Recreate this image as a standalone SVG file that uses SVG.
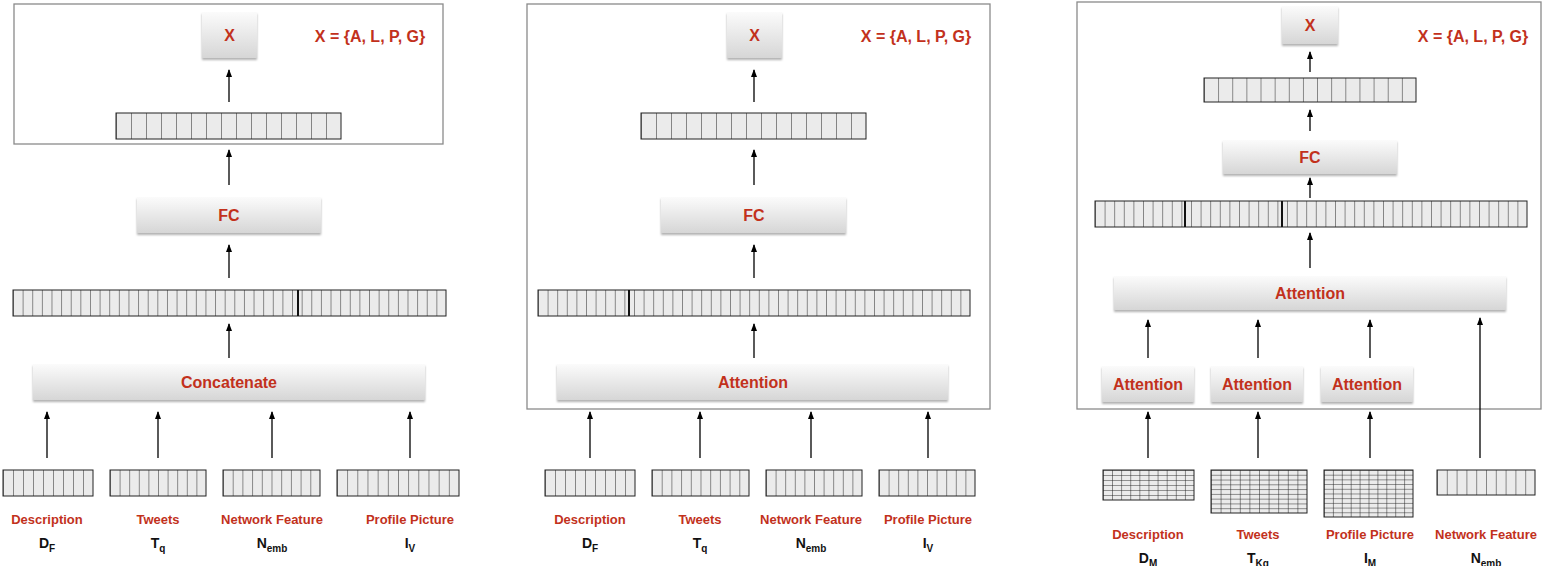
<svg xmlns="http://www.w3.org/2000/svg" width="1544" height="566" viewBox="0 0 1544 566">
<defs>
<style>
.frame{fill:none;stroke:#8a8a8a;stroke-width:1.3}
.sb{fill:none;stroke:#222;stroke-width:1}
.box{fill:url(#bg);filter:url(#sh)}
.t{font-family:"Liberation Sans",Arial,sans-serif;font-weight:bold;fill:#c2311c;text-anchor:middle}
.k{font-family:"Liberation Sans",Arial,sans-serif;font-weight:bold;fill:#111;text-anchor:middle;font-size:14px}
.ar{stroke:#000;stroke-width:1.3;fill:none;marker-end:url(#ah)}
.thick{stroke:#111;stroke-width:2}
</style>
<linearGradient id="bg" x1="0" y1="0" x2="0" y2="1"><stop offset="0" stop-color="#fbfbfb"/><stop offset="1" stop-color="#d6d6d6"/></linearGradient>
<filter id="sh" x="-10%" y="-20%" width="120%" height="160%"><feDropShadow dx="0" dy="2" stdDeviation="1.2" flood-color="#000" flood-opacity="0.3"/></filter>
<marker id="ah" viewBox="0 0 8 8" refX="7" refY="4" markerWidth="8" markerHeight="8" markerUnits="userSpaceOnUse" orient="auto"><path d="M0,1 L8,4 L0,7 Z" fill="#000"/></marker>
<pattern id="c9" width="0.11111" height="1" patternUnits="objectBoundingBox"><rect width="100" height="100" fill="#ebebeb"/><line x1="0" y1="0" x2="0" y2="100" stroke="#222"/></pattern>
<pattern id="c10" width="0.1" height="1" patternUnits="objectBoundingBox"><rect width="100" height="100" fill="#ebebeb"/><line x1="0" y1="0" x2="0" y2="100" stroke="#222"/></pattern>
<pattern id="c12" width="0.083333" height="1" patternUnits="objectBoundingBox"><rect width="100" height="100" fill="#ebebeb"/><line x1="0" y1="0" x2="0" y2="100" stroke="#222"/></pattern>
<pattern id="c15" width="0.066667" height="1" patternUnits="objectBoundingBox"><rect width="100" height="100" fill="#ebebeb"/><line x1="0" y1="0" x2="0" y2="100" stroke="#222"/></pattern>
<pattern id="c45" width="0.022222" height="1" patternUnits="objectBoundingBox"><rect width="100" height="100" fill="#ebebeb"/><line x1="0" y1="0" x2="0" y2="100" stroke="#222"/></pattern>
<pattern id="g6" width="0.1" height="0.166667" patternUnits="objectBoundingBox"><rect width="100" height="100" fill="#ebebeb"/><path d="M0,0V100M0,0H100" stroke="#222"/></pattern>
<pattern id="g9" width="0.1" height="0.111111" patternUnits="objectBoundingBox"><rect width="100" height="100" fill="#ebebeb"/><path d="M0,0V100M0,0H100" stroke="#222"/></pattern>
<pattern id="g10" width="0.1" height="0.1" patternUnits="objectBoundingBox"><rect width="100" height="100" fill="#ebebeb"/><path d="M0,0V100M0,0H100" stroke="#222"/></pattern>
</defs>
<rect width="1544" height="566" fill="#fff"/>

<!-- frames -->
<rect class="frame" x="14" y="4" width="429" height="140"/>
<rect class="frame" x="527" y="4" width="463" height="405"/>
<rect class="frame" x="1077" y="2" width="464" height="407"/>

<g id="connectors">
<line class="ar" x1="229" y1="102" x2="229" y2="70"/>
<line class="ar" x1="229" y1="185" x2="229" y2="150"/>
<line class="ar" x1="229" y1="278" x2="229" y2="245"/>
<line class="ar" x1="229" y1="358" x2="229" y2="324"/>
<line class="ar" x1="47" y1="458" x2="47" y2="412"/>
<line class="ar" x1="158" y1="458" x2="158" y2="412"/>
<line class="ar" x1="272" y1="458" x2="272" y2="412"/>
<line class="ar" x1="410" y1="458" x2="410" y2="412"/>

<line class="ar" x1="754" y1="102" x2="754" y2="70"/>
<line class="ar" x1="754" y1="185" x2="754" y2="150"/>
<line class="ar" x1="754" y1="278" x2="754" y2="245"/>
<line class="ar" x1="754" y1="358" x2="754" y2="324"/>
<line class="ar" x1="590" y1="458" x2="590" y2="412"/>
<line class="ar" x1="700" y1="458" x2="700" y2="412"/>
<line class="ar" x1="811" y1="458" x2="811" y2="412"/>
<line class="ar" x1="928" y1="458" x2="928" y2="412"/>

<line class="ar" x1="1310" y1="72" x2="1310" y2="52"/>
<line class="ar" x1="1310" y1="131" x2="1310" y2="110"/>
<line class="ar" x1="1310" y1="198" x2="1310" y2="178"/>
<line class="ar" x1="1310" y1="268" x2="1310" y2="233"/>
<line class="ar" x1="1148" y1="358" x2="1148" y2="320"/>
<line class="ar" x1="1258" y1="358" x2="1258" y2="320"/>
<line class="ar" x1="1370" y1="358" x2="1370" y2="320"/>
<line class="ar" x1="1480" y1="458" x2="1480" y2="318"/>
<line class="ar" x1="1148" y1="458" x2="1148" y2="412"/>
<line class="ar" x1="1258" y1="458" x2="1258" y2="412"/>
<line class="ar" x1="1370" y1="458" x2="1370" y2="412"/>
</g>

<!-- Left panel -->
<g id="L-X"><rect class="box" x="202" y="12" width="55" height="46"/><text class="t" x="229.5" y="41" font-size="16">X</text></g>
<text class="t" x="370" y="42" font-size="16">X = {A, L, P, G}</text>
<g id="L-v1"><rect x="116" y="113" width="225" height="26" fill="url(#c15)"/><rect class="sb" x="116" y="113" width="225" height="26"/></g>
<g id="L-FC"><rect class="box" x="137" y="197" width="184" height="36"/><text class="t" x="229" y="221" font-size="16">FC</text></g>
<g id="L-v2"><rect x="13" y="290" width="433" height="26" fill="url(#c45)"/><rect class="sb" x="13" y="290" width="433" height="26"/><line class="thick" x1="298" y1="290" x2="298" y2="316"/></g>
<g id="L-Concat"><rect class="box" x="33" y="364" width="392" height="36"/><text class="t" x="229" y="388" font-size="16">Concatenate</text></g>
<g id="L-D"><rect x="3" y="470" width="90" height="26" fill="url(#c9)"/><rect class="sb" x="3" y="470" width="90" height="26"/><text class="t" x="47" y="524" font-size="13">Description</text><text class="k" x="47" y="548">D<tspan font-size="10" dy="4">F</tspan></text></g>
<g id="L-T"><rect x="110" y="470" width="96" height="26" fill="url(#c10)"/><rect class="sb" x="110" y="470" width="96" height="26"/><text class="t" x="158" y="524" font-size="13">Tweets</text><text class="k" x="158" y="548">T<tspan font-size="10" dy="4">q</tspan></text></g>
<g id="L-N"><rect x="223" y="470" width="97" height="26" fill="url(#c10)"/><rect class="sb" x="223" y="470" width="97" height="26"/><text class="t" x="272" y="524" font-size="13">Network Feature</text><text class="k" x="272" y="548">N<tspan font-size="10" dy="4">emb</tspan></text></g>
<g id="L-P"><rect x="337" y="470" width="122" height="26" fill="url(#c12)"/><rect class="sb" x="337" y="470" width="122" height="26"/><text class="t" x="410" y="524" font-size="13">Profile Picture</text><text class="k" x="410" y="548">I<tspan font-size="10" dy="4">V</tspan></text></g>

<!-- Middle panel -->
<g id="M-X"><rect class="box" x="727" y="12" width="55" height="46"/><text class="t" x="754.5" y="41" font-size="16">X</text></g>
<text class="t" x="916" y="42" font-size="16">X = {A, L, P, G}</text>
<g id="M-v1"><rect x="641" y="113" width="225" height="26" fill="url(#c15)"/><rect class="sb" x="641" y="113" width="225" height="26"/></g>
<g id="M-FC"><rect class="box" x="661" y="197" width="185" height="36"/><text class="t" x="754" y="221" font-size="16">FC</text></g>
<g id="M-v2"><rect x="538" y="290" width="432" height="26" fill="url(#c45)"/><rect class="sb" x="538" y="290" width="432" height="26"/><line class="thick" x1="629" y1="290" x2="629" y2="316"/></g>
<g id="M-Att"><rect class="box" x="557" y="364" width="391" height="36"/><text class="t" x="753" y="388" font-size="16">Attention</text></g>
<g id="M-D"><rect x="545" y="470" width="90" height="26" fill="url(#c9)"/><rect class="sb" x="545" y="470" width="90" height="26"/><text class="t" x="590" y="524" font-size="13">Description</text><text class="k" x="590" y="548">D<tspan font-size="10" dy="4">F</tspan></text></g>
<g id="M-T"><rect x="652" y="470" width="97" height="26" fill="url(#c10)"/><rect class="sb" x="652" y="470" width="97" height="26"/><text class="t" x="700" y="524" font-size="13">Tweets</text><text class="k" x="700" y="548">T<tspan font-size="10" dy="4">q</tspan></text></g>
<g id="M-N"><rect x="766" y="470" width="96" height="26" fill="url(#c10)"/><rect class="sb" x="766" y="470" width="96" height="26"/><text class="t" x="811" y="524" font-size="13">Network Feature</text><text class="k" x="811" y="548">N<tspan font-size="10" dy="4">emb</tspan></text></g>
<g id="M-P"><rect x="879" y="470" width="96" height="26" fill="url(#c10)"/><rect class="sb" x="879" y="470" width="96" height="26"/><text class="t" x="928" y="524" font-size="13">Profile Picture</text><text class="k" x="928" y="548">I<tspan font-size="10" dy="4">V</tspan></text></g>

<!-- Right panel -->
<g id="R-X"><rect class="box" x="1282" y="6" width="56" height="38"/><text class="t" x="1310" y="31" font-size="16">X</text></g>
<text class="t" x="1473" y="42" font-size="16">X = {A, L, P, G}</text>
<g id="R-v1"><rect x="1204" y="78" width="212" height="24" fill="url(#c15)"/><rect class="sb" x="1204" y="78" width="212" height="24"/></g>
<g id="R-FC"><rect class="box" x="1223" y="140" width="174" height="34"/><text class="t" x="1310" y="163" font-size="16">FC</text></g>
<g id="R-v2"><rect x="1095" y="201" width="432" height="26" fill="url(#c45)"/><rect class="sb" x="1095" y="201" width="432" height="26"/><line class="thick" x1="1185" y1="201" x2="1185" y2="227"/><line class="thick" x1="1282" y1="201" x2="1282" y2="227"/></g>
<g id="R-Att"><rect class="box" x="1114" y="276" width="392" height="34"/><text class="t" x="1310" y="299" font-size="16">Attention</text></g>
<g id="R-A1"><rect class="box" x="1102" y="366" width="92" height="36"/><text class="t" x="1148" y="390" font-size="16">Attention</text></g>
<g id="R-A2"><rect class="box" x="1211" y="366" width="92" height="36"/><text class="t" x="1257" y="390" font-size="16">Attention</text></g>
<g id="R-A3"><rect class="box" x="1321" y="366" width="92" height="36"/><text class="t" x="1367" y="390" font-size="16">Attention</text></g>
<g id="R-D"><rect x="1103" y="470" width="91" height="30" fill="url(#g6)"/><rect class="sb" x="1103" y="470" width="91" height="30"/><text class="t" x="1148" y="539" font-size="13">Description</text><text class="k" x="1148" y="563">D<tspan font-size="10" dy="4">M</tspan></text></g>
<g id="R-T"><rect x="1211" y="470" width="96" height="43" fill="url(#g9)"/><rect class="sb" x="1211" y="470" width="96" height="43"/><text class="t" x="1258" y="539" font-size="13">Tweets</text><text class="k" x="1258" y="563">T<tspan font-size="10" dy="4">Kq</tspan></text></g>
<g id="R-P"><rect x="1324" y="470" width="89" height="47" fill="url(#g10)"/><rect class="sb" x="1324" y="470" width="89" height="47"/><text class="t" x="1370" y="539" font-size="13">Profile Picture</text><text class="k" x="1370" y="563">I<tspan font-size="10" dy="4">M</tspan></text></g>
<g id="R-N"><rect x="1437" y="470" width="98" height="25" fill="url(#c10)"/><rect class="sb" x="1437" y="470" width="98" height="25"/><text class="t" x="1486" y="539" font-size="13">Network Feature</text><text class="k" x="1486" y="563">N<tspan font-size="10" dy="4">emb</tspan></text></g>
</svg>
